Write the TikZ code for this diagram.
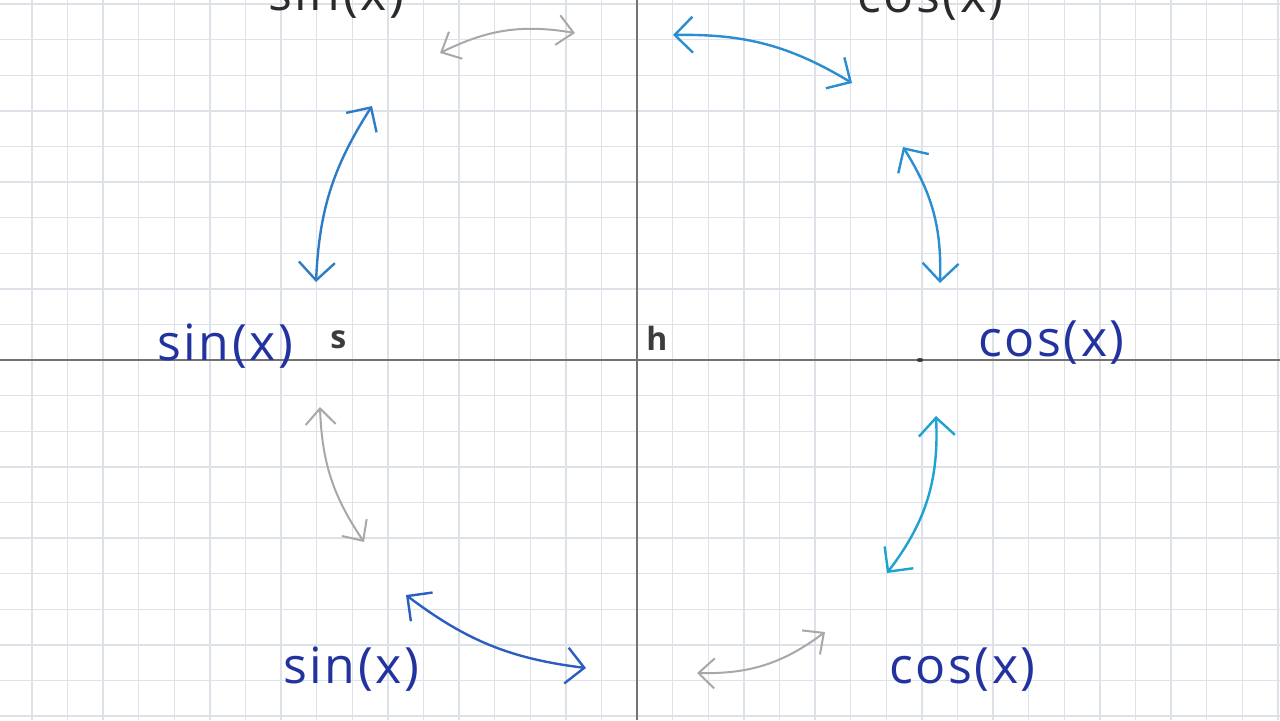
\documentclass[tikz,border=0pt]{standalone}
\usepackage{fontspec}
\setmainfont{Open Sans}[LetterSpace=5]
\usetikzlibrary{arrows.meta}
\definecolor{gridc}{HTML}{DDE2E8}
\definecolor{axisc}{HTML}{727272}
\definecolor{labdark}{HTML}{2A2A2A}
\definecolor{labblue}{HTML}{2233A0}
\definecolor{smallc}{HTML}{3C3C3C}
\definecolor{arrgray}{HTML}{A8A8A8}
\definecolor{arrblueA}{HTML}{2E7CC6}
\definecolor{arrblueB}{HTML}{2A8ED0}
\definecolor{arrcyan}{HTML}{1EA2CF}
\definecolor{arrblueC}{HTML}{2B5EC0}
\tikzset{
  biglabel/.style={inner sep=0pt, anchor=base west, font=\fontsize{25pt}{30pt}\selectfont},
  smalllabel/.style={inner sep=0pt, anchor=base west, text=smallc, font=\fontsize{16pt}{19pt}\selectfont\bfseries},
  twoway/.style={line width=1.2pt, line cap=round,
    {Straight Barb[length=9pt,width=18pt]}-{Straight Barb[length=9pt,width=18pt]}},
  twowaygray/.style={line width=1pt, line cap=round, draw=arrgray,
    {Straight Barb[length=8pt,width=15pt]}-{Straight Barb[length=8pt,width=15pt]}}
}
\begin{document}
\begin{tikzpicture}[x=0.5pt,y=-0.5pt]
\useasboundingbox (0,0) rectangle (1280,720);
\clip (0,0) rectangle (1280,720);
\fill[white] (0,0) rectangle (1280,720);
% grid
\foreach \k in {-18,...,18} {\draw[gridc, line width=0.7pt] ({637+35.6*\k},0) -- ({637+35.6*\k},720);}
\foreach \k in {-11,...,11} {\draw[gridc, line width=0.7pt] (0,{360+35.6*\k}) -- (1280,{360+35.6*\k});}
% axes
\draw[axisc, line width=1.2pt] (0,360) -- (1280,360);
\draw[axisc, line width=1.2pt] (637,0) -- (637,720);
\fill[smallc] (920,360) ellipse (3.5 and 2);
% labels
\node[biglabel, text=labdark] (sinT) at (268,10) {sin(x)};
\node[biglabel, text=labdark] (cosT) at (857,12) {cos(x)};
\node[biglabel, text=labblue] (sinL) at (157,360) {sin(x)};
\node[biglabel, text=labblue] (cosR) at (978,356) {cos(x)};
\node[biglabel, text=labblue] (sinB) at (283,683) {sin(x)};
\node[biglabel, text=labblue] (cosB) at (889,683) {cos(x)};
\node[smalllabel] (s) at (330,348) {s};
\node[smalllabel] (h) at (646,350) {h};
% arrow ends
\coordinate (a1s) at (440,53);  \coordinate (a1e) at (575,33);
\coordinate (a2s) at (316,282); \coordinate (a2e) at (372,106);
\coordinate (a3s) at (673,35);  \coordinate (a3e) at (852,83);
\coordinate (a4s) at (903,147); \coordinate (a4e) at (940,283);
\coordinate (a5s) at (936,416); \coordinate (a5e) at (887,573);
\coordinate (a6s) at (825,632); \coordinate (a6e) at (697,673);
\coordinate (a7s) at (586,668); \coordinate (a7e) at (406,595);
\coordinate (a8s) at (364,542); \coordinate (a8e) at (320,407);
% arrows
\draw[twowaygray] (a1s) to[bend left=18] (a1e);
\draw[twoway, draw=arrblueA] (a2s) to[bend left=15] (a2e);
\draw[twoway, draw=arrblueB] (a3s) to[bend left=16] (a3e);
\draw[twoway, draw=arrblueB] (a4s) to[bend left=17] (a4e);
\draw[twoway, draw=arrcyan] (a5s) to[bend left=20] (a5e);
\draw[twowaygray] (a6s) to[bend left=19] (a6e);
\draw[twoway, draw=arrblueC] (a7s) to[bend left=15] (a7e);
\draw[twowaygray] (a8s) to[bend left=16] (a8e);
\end{tikzpicture}
\end{document}
